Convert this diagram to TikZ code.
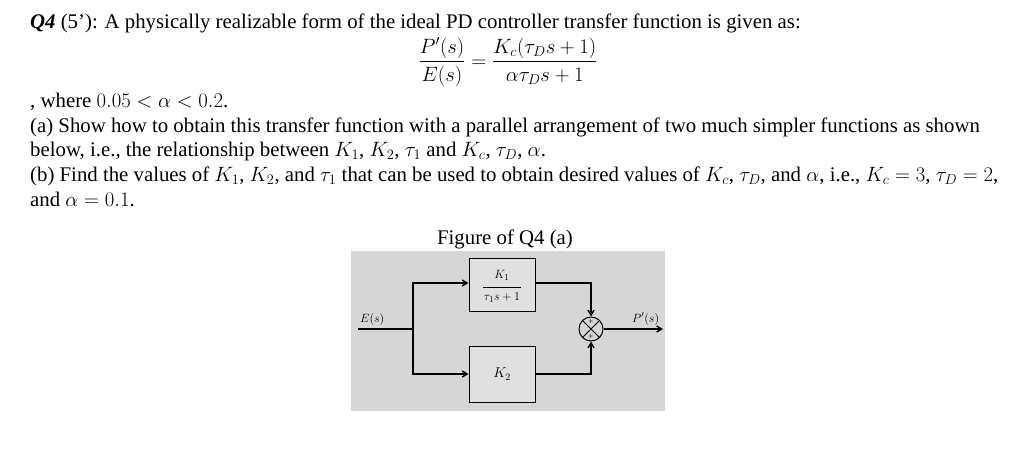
\documentclass[tikz,border=0pt]{standalone}
\usepackage{amsmath}
\usepackage{fontspec}
\setmainfont{Liberation Serif}
\usetikzlibrary{arrows.meta}
\begin{document}
\begin{tikzpicture}[x=1pt,y=-1pt,
  txt/.style={anchor=base west,inner sep=0pt,font=\fontsize{20.8}{22}\selectfont},
  blk/.style={draw,line width=1pt,fill=black!12,minimum width=66pt},
  ln/.style={line width=1.4pt},
  ar/.style={ln,-{Straight Barb[length=5pt,width=6pt]}},
  fl/.style={font=\fontsize{13}{14}\selectfont,inner sep=0pt}]
\useasboundingbox (0,0) rectangle (1024,459);
\node[txt] (l1) at (30,28) {\textit{\textbf{Q4}} (5’): A physically realizable form of the ideal PD controller transfer function is given as:};
\node[inner sep=0pt,font=\fontsize{20.8}{22}\selectfont] (eq) at (508,62) {$\dfrac{P'(s)}{E(s)}=\dfrac{K_c(\tau_D s+1)}{\alpha\tau_D s+1}$};
\node[txt] (l2) at (30,107) {, where $0.05<\alpha<0.2$.};
\node[txt] (l3) at (30,132) {(a) Show how to obtain this transfer function with a parallel arrangement of two much simpler functions as shown};
\node[txt] (l4) at (30,156) {below, i.e., the relationship between $K_1$, $K_2$, $\tau_1$ and $K_c$, $\tau_D$, $\alpha$.};
\node[txt] (l5) at (30,181) {(b) Find the values of $K_1$, $K_2$, and $\tau_1$ that can be used to obtain desired values of $K_c$, $\tau_D$, and $\alpha$, i.e., $K_c=3$, $\tau_D=2$,};
\node[txt] (l6) at (30,206) {and $\alpha=0.1$.};
\node[txt,anchor=base] (fig) at (505,244) {Figure of Q4 (a)};
\fill[black!16] (351,251) rectangle (665,411);
\node[blk,minimum height=53pt] (b1) at (502,284.5) {};
\node[fl] at (502,275) {$K_1$};
\draw (483,287) -- (521,287);
\node[fl] at (502,298) {$\tau_1 s+1$};
\node[blk,minimum height=56pt,font=\fontsize{14}{15}\selectfont] (b2) at (502,374) {$K_2$};
\node[draw,circle,line width=1pt,minimum size=24pt,inner sep=0pt] (sum) at (591,329) {};
\draw[line width=1pt] (sum.north west)--(sum.south east) (sum.north east)--(sum.south west);
\node[inner sep=0pt,font=\fontsize{9}{9}\selectfont] at (591,322) {+};
\node[inner sep=0pt,font=\fontsize{9}{9}\selectfont] at (591,337) {+};
\coordinate (in) at (358,329);
\coordinate (sp) at (413,329);
\coordinate (out) at (663,329);
\draw[ln] (in) -- (sp);
\draw[ar] (sp) |- ([yshift=1.5pt]b1.west);
\draw[ar] (sp) |- (b2.west);
\draw[ar] ([yshift=1.5pt]b1.east) -| (sum.north);
\draw[ar] (b2.east) -| (sum.south);
\draw[ar] (sum.east) -- (out);
\node[fl,anchor=base west] at (360,322) {$E(s)$};
\node[fl,anchor=base west] at (632,322) {$P'(s)$};
\end{tikzpicture}
\end{document}
